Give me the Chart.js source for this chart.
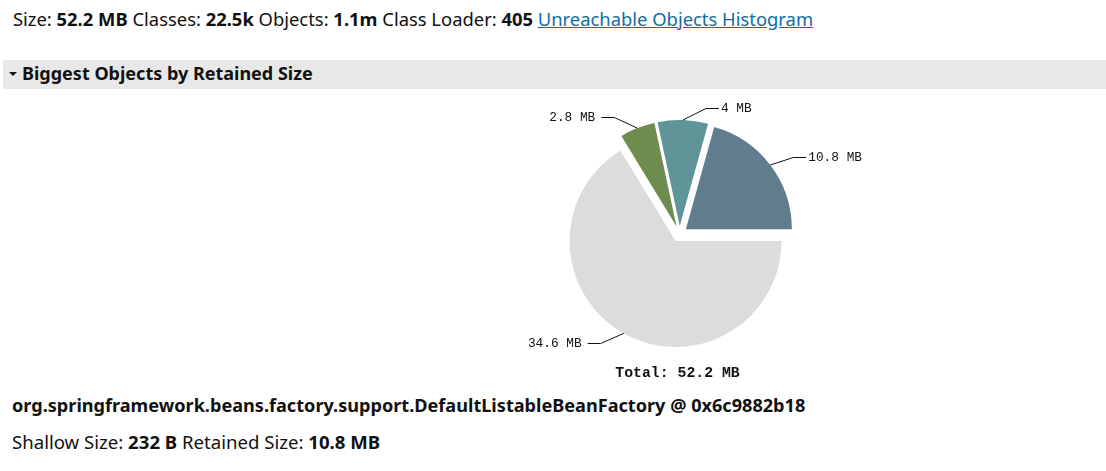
<!DOCTYPE html>
<html>
<head>
<meta charset="utf-8">
<title>Biggest Objects by Retained Size</title>
<script src="https://cdn.jsdelivr.net/npm/chart.js@4"></script>
<style>
html, body { margin: 0; padding: 0; background: #fff; }
body { width: 1106px; height: 471px; position: relative; overflow: hidden; font-family: "Noto Sans", sans-serif; color: #111; }
.line { position: absolute; white-space: nowrap; }
.info { left: 13px; top: 7px; font-size: 18.4px; line-height: 24px; }
.info a { color: #0f6ea5; text-decoration: underline; }
.band { position: absolute; left: 3px; right: 0; top: 60px; height: 29px; background: #e8e8e8; }
.arrow { position: absolute; left: 9px; top: 72px; width: 0; height: 0; border-left: 4px solid transparent; border-right: 4px solid transparent; border-top: 4px solid #111; }
.heading { left: 22px; top: 59px; font-size: 18px; line-height: 28px; font-weight: 700; }
.name { left: 12px; top: 392px; font-size: 18.12px; line-height: 26px; font-weight: 700; }
.sizes { left: 12px; top: 430px; font-size: 18.6px; line-height: 24px; }
#pie { position: absolute; left: 500px; top: 90px; }
</style>
</head>
<body>
<div class="line info">Size: <b>52.2 MB</b> Classes: <b>22.5k</b> Objects: <b>1.1m</b> Class Loader: <b>405</b> <a href="#">Unreachable Objects Histogram</a></div>
<div class="band"></div>
<div class="arrow"></div>
<div class="line heading">Biggest Objects by Retained Size</div>
<canvas id="pie" width="400" height="300"></canvas>
<div class="line name">org.springframework.beans.factory.support.DefaultListableBeanFactory @ 0x6c9882b18</div>
<div class="line sizes">Shallow Size: <b>232 B</b> Retained Size: <b>10.8 MB</b></div>

<script>
// clockwise from 3 o'clock
const sliceLabels = ['34.6 MB', '2.8 MB', '4 MB', '10.8 MB'];
const sliceSizes = [34.6, 2.8, 4, 10.8];
const sliceColors = ['#dcdcdc', '#6e8b50', '#5f9498', '#5f7d8d'];
const totalLabel = 'Total: 52.2 MB';

const explodeGap = 8;

// chart.js offset bends the small arcs, so move each whole slice out instead
const explodedSlices = {
    id: 'explodedSlices',
    beforeDatasetDraw(chart, args) {
        const ctx = chart.ctx;
        args.meta.data.forEach(arc => {
            const mid = (arc.startAngle + arc.endAngle) / 2;
            ctx.save();
            ctx.translate(Math.cos(mid) * explodeGap, Math.sin(mid) * explodeGap);
            arc.draw(ctx, chart.chartArea);
            ctx.restore();
        });
        return false;
    }
};

// leader lines and the total under the pie
const pieLabels = {
    id: 'pieLabels',
    afterDraw(chart) {
        const ctx = chart.ctx;
        const arcs = chart.getDatasetMeta(0).data;
        const rises = [10, 11, 12, 8];
        ctx.save();
        ctx.fillStyle = '#111';
        ctx.strokeStyle = '#111';
        ctx.lineWidth = 1;
        ctx.font = '12.8px "Liberation Mono", monospace';
        ctx.textBaseline = 'middle';
        arcs.forEach((arc, i) => {
            const mid = (arc.startAngle + arc.endAngle) / 2;
            const reach = arc.outerRadius + explodeGap;
            const sx = arc.x + Math.cos(mid) * reach;
            const sy = arc.y + Math.sin(mid) * reach;
            const dirX = Math.cos(mid) >= 0 ? 1 : -1;
            const dirY = Math.sin(mid) >= 0 ? 1 : -1;
            const ey = Math.round(sy + dirY * rises[i]) + 0.5;
            const ex = sx + dirX * 23;
            ctx.beginPath();
            ctx.moveTo(sx, sy);
            ctx.lineTo(ex, ey);
            ctx.lineTo(ex + dirX * 13, ey);
            ctx.stroke();
            ctx.textAlign = dirX > 0 ? 'left' : 'right';
            ctx.fillText(sliceLabels[i], ex + dirX * (dirX > 0 ? 15 : 19), ey);
        });
        ctx.font = 'bold 14.8px "Liberation Mono", monospace';
        ctx.textAlign = 'center';
        ctx.fillText(totalLabel, 177.5, 283);
        ctx.restore();
    }
};

new Chart(document.getElementById('pie'), {
    type: 'pie',
    data: {
        labels: sliceLabels,
        datasets: [{
            data: sliceSizes,
            backgroundColor: sliceColors,
            borderWidth: 0,
            hoverOffset: 0
        }]
    },
    options: {
        responsive: false,
        animation: false,
        rotation: 90,
        layout: { padding: { left: 73.5, right: 114.5, top: 38, bottom: 50 } },
        plugins: {
            legend: { display: false },
            tooltip: { enabled: false }
        }
    },
    plugins: [explodedSlices, pieLabels]
});
</script>
</body>
</html>
